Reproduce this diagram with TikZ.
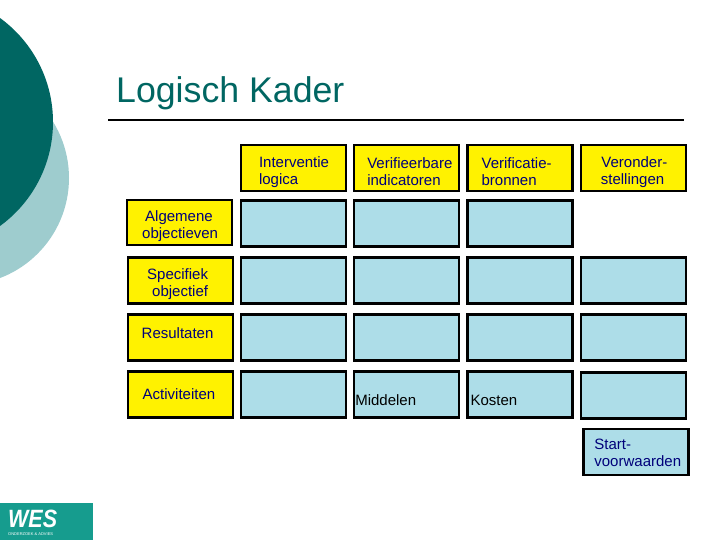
\documentclass[tikz,border=0pt]{standalone}
\usepackage{fontspec}
\setmainfont{Liberation Sans}
\usetikzlibrary{positioning}

\definecolor{darkteal}{HTML}{006662}
\definecolor{lightteal}{HTML}{9ECCCE}
\definecolor{logoteal}{HTML}{169C8E}
\definecolor{boxyellow}{HTML}{FFF200}
\definecolor{boxblue}{HTML}{ADDDE8}
\definecolor{textnavy}{HTML}{00007A}

% moves a one line label away from the middle of its box
\newcommand{\moved}[2]{\raisebox{#1}[0pt][0pt]{#2}}
% pushes a two line label down a little
\newcommand{\low}{\rule{0pt}{19pt}}

\begin{document}
\begin{tikzpicture}[x=1pt,y=1pt,on grid,node distance=57pt and 113.3pt]
       \tikzstyle{box}=[draw=black,line width=2.3pt,rectangle,minimum width=105pt,minimum height=46pt,
          inner xsep=3pt,inner ysep=0pt,text width=99pt,align=left,font=\fontsize{15}{17}\selectfont]
       \tikzstyle{head}=[box,fill=boxyellow,text=textnavy]
       \tikzstyle{cell}=[box,fill=boxblue,text=black]

       \useasboundingbox (0,0) rectangle (720,-540);

       \fill[lightteal] (-38,-178) circle (107pt);
       \fill[darkteal] (-75.5,-122) circle (128.5pt);

       \node[text=darkteal,anchor=base west,inner sep=0pt,font=\fontsize{35.7}{40}\selectfont] (title) at (116,-103) {Logisch Kader};
       \coordinate (rule_l) at (108,-120);
       \coordinate (rule_r) at (684,-120);
       \draw[line width=1.6pt] (rule_l) -- (rule_r);

       \node[head] (int_h) at (293.5,-168) {\low\hspace*{15pt}Interventie\\\hspace*{15pt}logica};
       \node[head,right=of int_h] (ver_h) {\low\hspace*{10pt}Verifieerbare\\\hspace*{10pt}indicatoren};
       \node[head,right=of ver_h] (bro_h) {\low\hspace*{11pt}Verificatie-\\\hspace*{11pt}bronnen};
       \node[head,right=of bro_h] (ond_h) {\low\hspace*{17.5pt}Veronder-\\\hspace*{17pt}stellingen};

       \node[cell,below=55.5pt of int_h] (int_1) {};
       \node[cell,right=of int_1] (ver_1) {};
       \node[cell,right=of ver_1] (bro_1) {};
       \node[head,left=of int_1,minimum height=45pt,yshift=1pt,xshift=-.5pt] (alg) {\low\hspace*{15pt}Algemene\\\hspace*{12pt}objectieven};

       \node[cell,below=of int_1] (int_2) {};
       \node[cell,right=of int_2] (ver_2) {};
       \node[cell,right=of ver_2] (bro_2) {};
       \node[cell,right=of bro_2] (ond_2) {};
       \node[head,left=of int_2] (spec) {\low\hspace*{16.5pt}Specifiek\\\hspace*{21.5pt}objectief};

       \node[cell,below=of int_2] (int_3) {};
       \node[cell,right=of int_3] (ver_3) {};
       \node[cell,right=of ver_3] (bro_3) {};
       \node[cell,right=of bro_3] (ond_3) {};
       \node[head,left=of int_3] (res) {\hspace*{11pt}\moved{-1pt}{Resultaten}};

       \node[cell,below=of int_3] (int_4) {};
       \node[cell,right=of int_4] (ver_4) {\hspace*{-2pt}\moved{-11pt}{Middelen}};
       \node[cell,right=of ver_4] (bro_4) {\moved{-11pt}{Kosten}};
       \node[cell,right=of bro_4,yshift=-1pt] (ond_4) {};
       \node[head,left=of int_4] (act) {\hspace*{12pt}\raisebox{1pt}{Activiteiten}};

       \node[cell,text=textnavy,below=56.5pt of ond_4,xshift=2.5pt] (start) {\rule{0pt}{13pt}\hspace*{8pt}Start-\\\hspace*{8pt}voorwaarden};

       \node[fill=logoteal,minimum width=93pt,minimum height=37pt,inner sep=0pt,anchor=south west] (logo) at (0,-540) {};
       \node[text=white,inner sep=0pt,anchor=base west,xscale=.86,font=\fontsize{25}{25}\selectfont\bfseries\itshape] (logo_w) at (8,-527) {WES};
       \node[text=white,inner sep=0pt,anchor=base west,font=\fontsize{4}{5}\selectfont] (logo_s) at (8,-535) {ONDERZOEK \& ADVIES};
\end{tikzpicture}
\end{document}
